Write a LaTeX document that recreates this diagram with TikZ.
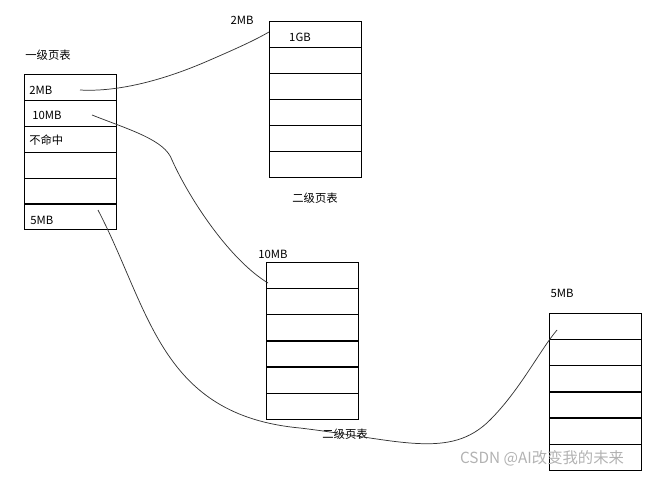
\documentclass[tikz,border=0pt]{standalone}
\usepackage{fontspec}
\setmainfont{Noto Sans CJK SC}
\usetikzlibrary{positioning}

\begin{document}
\begin{tikzpicture}[x=0.75pt,y=-0.75pt]
\tikzset{
  cell/.style={draw,black,line width=0.6pt,minimum width=69pt,minimum height=19.4pt,inner sep=0pt,anchor=north west},
  lbl/.style={font=\fontsize{8.5}{9}\selectfont,inner sep=0pt},
  wire/.style={black!80,line width=0.55pt}
}
\useasboundingbox (0,0) rectangle (659,478);
% first level table
\foreach \i in {0,...,5}
  \node[cell] (a\i) at (24,74+25.9*\i) {};
\node[lbl,anchor=west] at (29,90) {2MB};
\node[lbl,anchor=west] at (32,115) {10MB};
\node[lbl,anchor=west] at (29,140) {不命中};
\node[lbl,anchor=west] at (30,220) {5MB};
\node[lbl] (t1) at (48,55) {一级页表};
% second level tables
\foreach \i in {0,...,5}
  \node[cell] (b\i) at (269,21+26*\i) {};
\node[lbl] at (300,37) {1GB};
\node[lbl] (t2) at (242,20) {2MB};
\node[lbl] at (315,198) {二级页表};
\foreach \i in {0,...,5}
  \node[cell] (c\i) at (266,262+26.2*\i) {};
\node[lbl] (t3) at (273,254) {10MB};
\node[lbl] at (345,434) {二级页表};
\foreach \i in {0,...,5}
  \node[cell] (d\i) at (549,313+26.2*\i) {};
\node[lbl] (t4) at (562,293) {5MB};
% pointers
\coordinate (p1) at (80,90);
\coordinate (p2) at (92,115);
\coordinate (p3) at (98,210);
\draw[wire] (p1) .. controls (115,92) and (160,82) .. (210,60) .. controls (240,47) and (255,40) .. (b0.north west |- 0,32);
\draw[wire] (p2) .. controls (130,130) and (165,140) .. (172,160) .. controls (190,200) and (230,260) .. (268,283);
\draw[wire] (p3) .. controls (150,310) and (160,415) .. (300,428) .. controls (400,440) and (450,460) .. (490,420) .. controls (520,390) and (540,350) .. (557,330);
\node[gray!60,font=\fontsize{11.5}{12}\selectfont,inner sep=0pt] (wm) at (542,458) {CSDN @AI改变我的未来};
\end{tikzpicture}
\end{document}
